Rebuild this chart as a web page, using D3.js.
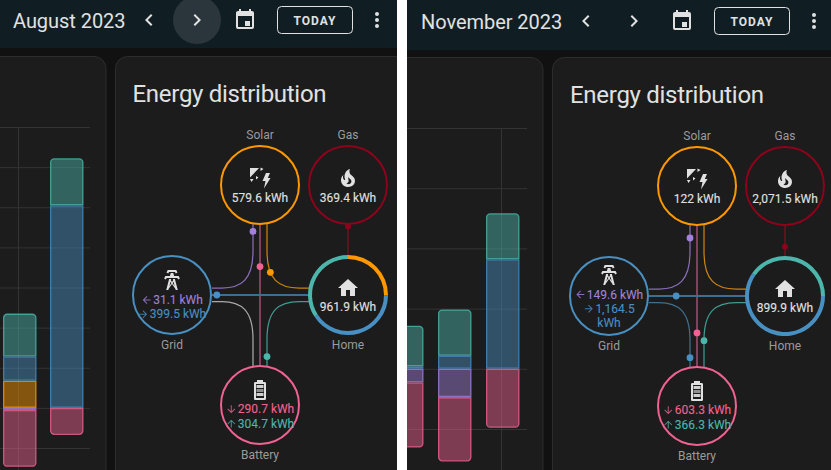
<!DOCTYPE html>
<html>
<head>
<meta charset="utf-8">
<style>
  html, body { margin: 0; padding: 0; background: #fff; }
  svg { display: block; font-family: Roboto, sans-serif; }
</style>
<script src="https://cdn.jsdelivr.net/npm/d3@7"></script>
</head>
<body>
<svg id="chart" width="831" height="470"></svg>
<script>
// Series colours
const COLORS = {
  solar: '#ff9800',
  gas: '#8e021b',
  gridIn: '#488fc2',
  gridOut: '#a280db',
  batteryIn: '#f06292',
  batteryOut: '#4db6ac',
};
const ICON = '#e1e1e1';
const LABEL = '#9b9b9b';

// August bars (kWh)
const augBars = ['a', 'b'];
const augSolar = [1.35, 0];
const augGridIn = [1.21, 10.1];
const augBatteryOut = [2.14, 2.34];
const augGridOut = [-0.1, 0];
const augBatteryIn = [-2.84, -1.35];

// November bars (kWh)
const novBars = ['a', 'b', 'c'];
const novSolar = [0, 0, 0];
const novGridIn = [0.2, 1.08, 9.1];
const novBatteryOut = [3.38, 3.85, 3.82];
const novGridOut = [-1.14, -2.35, 0];
const novBatteryIn = [-5.4, -5.35, -4.9];

// Home ring shares
const augHomeShares = [241, 393, 327.9];
const novHomeShares = [0, 536.4, 363.5];

// Where the moving dot sits on each flow, as fraction of the path (null = none)
const augDots = [0.08, 0.3, 0.52, 0.05, null, 0.1, 0.08];
const novDots = [0.14, 0.76, null, 0.28, 0.9, 0.28, 0.7];

const ICONS = {
  home: 'M10,20V14H14V20H19V12H22L12,3L2,12H5V20H10Z',
  fire: 'M17.66 11.2C17.43 10.9 17.15 10.64 16.89 10.38C16.22 9.78 15.46 9.35 14.82 8.72C13.33 7.26 13 4.85 13.95 3C13 3.23 12.17 3.75 11.46 4.32C8.87 6.4 7.85 10.07 9.07 13.22C9.11 13.32 9.15 13.42 9.15 13.55C9.15 13.77 9 13.97 8.8 14.05C8.57 14.15 8.33 14.09 8.14 13.93C8.08 13.88 8.04 13.83 8 13.76C6.87 12.33 6.69 10.28 7.45 8.64C5.78 10 4.87 12.3 5 14.47C5.06 14.97 5.12 15.47 5.29 15.97C5.43 16.57 5.7 17.17 6 17.7C7.08 19.43 8.95 20.67 10.96 20.92C13.1 21.19 15.39 20.8 17.03 19.32C18.86 17.66 19.5 15 18.56 12.72L18.43 12.46C18.22 12 17.66 11.2 17.66 11.2M14.5 17.5C14.22 17.74 13.76 18 13.4 18.1C12.28 18.5 11.16 17.94 10.5 17.28C11.69 17 12.4 16.12 12.61 15.23C12.78 14.43 12.46 13.77 12.33 13C12.21 12.26 12.23 11.63 12.5 10.94C12.69 11.32 12.89 11.7 13.13 12C13.9 13 15.11 13.44 15.37 14.8C15.41 14.94 15.43 15.08 15.43 15.23C15.46 16.05 15.1 16.95 14.5 17.5H14.5Z',
  tower: 'M8.28,5.45L6.5,4.55L7.76,2H16.23L17.5,4.55L15.72,5.44L15,4H9L8.28,5.45M18.62,8H14.09L13.3,5H10.7L9.91,8H5.38L4.1,10.55L5.89,11.44L6.62,10H17.38L18.1,11.45L19.89,10.56L18.62,8M17.77,22H15.7L15.46,21.1L12,15.9L8.53,21.1L8.3,22H6.23L9.12,11H11.19L10.83,12.35L12,14.1L13.16,12.35L12.81,11H14.88L17.77,22M11.4,15L10.5,13.65L9.32,18.13L11.4,15M14.68,18.12L13.5,13.64L12.6,15L14.68,18.12Z',
  solar: 'M2,2H11L2,11.5ZM12.5,1.5L15.5,3L12.5,5ZM2,13H5.5L3.5,16ZM8,10L10.5,11.5L8,13.5ZM18,7H22L19.8,12H22.5L16,22.5L17.5,15H14.5Z',
  battery: 'M16,20H8V6H16M16.67,4H15V2H9V4H7.33A1.33,1.33 0 0,0 6,5.33V20.67C6,21.4 6.6,22 7.33,22H16.67A1.33,1.33 0 0,0 18,20.67V5.33C18,4.6 17.4,4 16.67,4Z',
  chevronLeft: 'M15.41,16.58L10.83,12L15.41,7.41L14,6L8,12L14,18L15.41,16.58Z',
  chevronRight: 'M8.59,16.58L13.17,12L8.59,7.41L10,6L16,12L10,18L8.59,16.58Z',
  calendar: 'M19,19H5V8H19M19,3H18V1H16V3H8V1H6V3H5C3.89,3 3,3.9 3,5V19A2,2 0 0,0 5,21H19A2,2 0 0,0 21,19V5A2,2 0 0,0 19,3M12,13H17V18H12V13Z',
  dots: 'M12,16A2,2 0 0,1 14,18A2,2 0 0,1 12,20A2,2 0 0,1 10,18A2,2 0 0,1 12,16M12,10A2,2 0 0,1 14,12A2,2 0 0,1 12,14A2,2 0 0,1 10,12A2,2 0 0,1 12,10M12,4A2,2 0 0,1 14,6A2,2 0 0,1 12,8A2,2 0 0,1 10,6A2,2 0 0,1 12,4Z',
  left: 'M20,11V13H8L13.5,18.5L12.08,19.92L4.16,12L12.08,4.08L13.5,5.5L8,11H20Z',
  right: 'M4,11V13H16L10.5,18.5L11.92,19.92L19.84,12L11.92,4.08L10.5,5.5L16,11H4Z',
  down: 'M11,4H13V16L18.5,10.5L19.92,11.92L12,19.84L4.08,11.92L5.5,10.5L11,16V4Z',
  up: 'M13,20H11V8L5.5,13.5L4.08,12.08L12,4.16L19.92,12.08L18.5,13.5L13,8V20Z',
};

const svg = d3.select('#chart');
const defs = svg.append('defs');

function icon(g, name, cx, cy, size, color) {
  const s = size / 24;
  return g.append('path')
    .attr('d', ICONS[name])
    .attr('transform', `translate(${cx - size / 2},${cy - size / 2}) scale(${s})`)
    .attr('fill', color || ICON)
    .attr('fill-rule', 'evenodd');
}

// Rectangle with only top and/or bottom corners rounded
function barPath(x, y0, y1, w, rt, rb) {
  const p = d3.path();
  p.moveTo(x, y0 + rt);
  if (rt) p.arcTo(x, y0, x + rt, y0, rt);
  p.lineTo(x + w - rt, y0);
  if (rt) p.arcTo(x + w, y0, x + w, y0 + rt, rt);
  p.lineTo(x + w, y1 - rb);
  if (rb) p.arcTo(x + w, y1, x + w - rb, y1, rb);
  p.lineTo(x + rb, y1);
  if (rb) p.arcTo(x, y1, x, y1 - rb, rb);
  p.closePath();
  return p.toString();
}

function drawBars(g, cfg) {
  const y = d3.scaleLinear().domain(cfg.yDomain).range(cfg.yRange);
  const x = d3.scaleLinear().domain([0, cfg.bars.length - 1]).range(cfg.xRange);
  const barW = 33.5;

  // grid
  const axis = d3.axisLeft(y).tickValues(d3.range(cfg.yDomain[0], cfg.yDomain[1] + 1, cfg.yStep))
    .tickSize(-(cfg.gridX[1] - cfg.gridX[0])).tickFormat('');
  const ag = g.append('g').attr('transform', `translate(${cfg.gridX[0]},0)`).call(axis);
  ag.select('.domain').remove();
  ag.selectAll('line').attr('stroke', '#333');
  const vx = Math.floor(x(cfg.vGrid) + barW / 2) - 0.5;
  g.append('line').attr('x1', vx).attr('x2', vx).attr('y1', cfg.yRange[1]).attr('y2', 471).attr('stroke', '#333');

  // stacked bars
  const keys = ['solar', 'gridIn', 'batteryOut', 'gridOut', 'batteryIn'];
  const table = cfg.bars.map((b, i) => ({
    solar: cfg.solar[i], gridIn: cfg.gridIn[i], batteryOut: cfg.batteryOut[i],
    gridOut: cfg.gridOut[i], batteryIn: cfg.batteryIn[i],
  }));
  const series = d3.stack().keys(keys).offset(d3.stackOffsetDiverging)(table);
  const tops = table.map((row, i) => d3.max(series, s => s[i][1]));
  const bottoms = table.map((row, i) => d3.min(series, s => s[i][0]));

  series.forEach(s => {
    s.forEach((d, i) => {
      if (d[1] - d[0] === 0) return;
      const y0 = y(d[1]);
      const y1 = y(d[0]);
      g.append('path')
        .attr('d', barPath(x(i) + 0.65, y0 + 0.65, y1 - 0.65, barW - 1.3,
          d[1] === tops[i] ? 3.5 : 0, d[0] === bottoms[i] ? 3.5 : 0))
        .attr('fill', COLORS[s.key]).attr('fill-opacity', 0.46)
        .attr('stroke', COLORS[s.key]).attr('stroke-width', 1.3).attr('stroke-opacity', 0.8);
    });
  });
}

function drawHeader(g, cfg) {
  g.append('rect').attr('x', cfg.x0).attr('y', 0).attr('width', cfg.x1 - cfg.x0).attr('height', cfg.headerH).attr('fill', '#101e24');
  const cy = cfg.headerH / 2 - 4;
  g.append('text').attr('x', cfg.titleX).attr('y', cy + 8).attr('fill', ICON)
    .attr('font-size', 20).attr('letter-spacing', -0.05).text(cfg.month);
  if (cfg.hover) g.append('circle').attr('cx', cfg.nextX).attr('cy', cy).attr('r', 24).attr('fill', '#2a363b');
  icon(g, 'chevronLeft', cfg.prevX, cy, 24);
  icon(g, 'chevronRight', cfg.nextX, cy, 24);
  icon(g, 'calendar', cfg.calX, cy, 24);
  g.append('rect').attr('x', cfg.todayX + 0.5).attr('y', cy - 13.5).attr('width', 75).attr('height', 27).attr('rx', 4)
    .attr('fill', 'none').attr('stroke', ICON).attr('stroke-width', 1);
  g.append('text').attr('x', cfg.todayX + 38).attr('y', cy + 4.5).attr('text-anchor', 'middle').attr('fill', ICON)
    .attr('font-size', 12).attr('font-weight', 700).attr('letter-spacing', 1.05).text('TODAY');
  icon(g, 'dots', cfg.dotsX, cy, 24);
}

// Value line inside a circle, with optional arrow in front
function valueLine(g, cx, y, text, color, arrow, arrowColor) {
  const off = arrow ? 6 : 0;
  const t = g.append('text').attr('x', cx + off).attr('y', y).attr('text-anchor', 'middle')
    .attr('font-size', 12).attr('fill', color)
    .attr('stroke', color).attr('stroke-width', 0.1).text(text);
  if (arrow) {
    const len = t.node().getComputedTextLength();
    icon(g, arrow, cx + off - len / 2 - 6.5, y - 4, 12, arrowColor).attr('opacity', 0.8);
  }
}

function drawFlows(g, cfg) {
  const { solar, grid, home, battery, gas } = cfg.nodes;
  const top = solar.y + 39, bot = battery.y - 39, lx = grid.x + 40, rx = home.x - 39;
  const cl = solar.x - 7, cr = solar.x + 7, yu = grid.y - 7, yd = grid.y + 6.5;

  // straight stub, elbow, straight stub
  function elbow(x0, y0, sx, sy, c1x, c1y, c2x, c2y, hx, hy, x1, y1) {
    const p = d3.path();
    p.moveTo(x0, y0);
    p.lineTo(sx, sy);
    p.bezierCurveTo(c1x, c1y, c2x, c2y, hx, hy);
    p.lineTo(x1, y1);
    return p.toString();
  }
  const flows = [
    { d: elbow(cl, top, cl, grid.y - 44, cl, grid.y - 15, cl - 12, yu, lx + 10, yu, lx, yu), c: '#8a6cb8', w: 1.25, dot: COLORS.gridOut },
    { d: `M${solar.x},${top}V${bot}`, c: '#a14e72', w: 1.5, dot: COLORS.batteryIn },
    { d: elbow(cr, top, cr, grid.y - 44, cr, grid.y - 15, cr + 12, yu, rx - 10, yu, rx, yu), c: '#c9820f', w: 1.25, dot: COLORS.solar },
    { d: `M${lx},${grid.y}H${rx}`, c: '#3f6f90', w: 2, dot: COLORS.gridIn },
    { d: elbow(lx, yd, lx + 10, yd, cl - 12, yd, cl, grid.y + 15, cl, grid.y + 44, cl, bot), c: cfg.gridBatteryColor, w: 1.25, dot: COLORS.gridIn },
    { d: elbow(cr, bot, cr, grid.y + 44, cr, grid.y + 15, cr + 12, yd, rx - 10, yd, rx, yd), c: '#3f9a90', w: 1.25, dot: COLORS.batteryOut },
    { d: `M${gas.x},${gas.y + 39}V${home.y - 40}`, c: '#72101f', w: 1.5, dot: COLORS.gas },
  ];

  flows.forEach((f, i) => {
    const path = g.append('path').attr('d', f.d).attr('fill', 'none').attr('stroke', f.c).attr('stroke-width', f.w);
    if (cfg.dots[i] == null) return;
    const node = path.node();
    const pt = node.getPointAtLength(node.getTotalLength() * cfg.dots[i]);
    g.append('circle').attr('cx', pt.x).attr('cy', pt.y).attr('r', i === 6 ? 3 : 3.4).attr('fill', f.dot);
  });
}

function drawDistribution(g, cfg) {
  drawFlows(g, cfg);
  const n = cfg.nodes;

  // plain circles
  [[n.solar, COLORS.solar], [n.gas, COLORS.gas], [n.grid, COLORS.gridIn], [n.battery, COLORS.batteryIn]].forEach(([c, col]) => {
    g.append('circle').attr('cx', c.x).attr('cy', c.y).attr('r', 39)
      .attr('fill', 'none').attr('stroke', col).attr('stroke-width', 2);
  });

  // home ring built from its shares
  const pie = d3.pie().sort(null).startAngle(cfg.ringStart).endAngle(cfg.ringStart + Math.PI * 2);
  const arc = d3.arc().innerRadius(36).outerRadius(40);
  const ringColors = [COLORS.solar, COLORS.gridIn, COLORS.batteryOut];
  g.append('g').attr('transform', `translate(${n.home.x},${n.home.y})`)
    .selectAll('path').data(pie(cfg.homeShares)).join('path')
    .attr('d', arc).attr('fill', (d, i) => ringColors[i]);

  // labels
  const labels = [[n.solar, 'Solar', -46.5], [n.gas, 'Gas', -46.5], [n.grid, 'Grid', 53.5], [n.home, 'Home', 53.5], [n.battery, 'Battery', 53.5]];
  labels.forEach(([c, t, dy]) => {
    g.append('text').attr('x', c.x).attr('y', c.y + dy).attr('text-anchor', 'middle')
      .attr('font-size', 12).attr('fill', LABEL).text(t);
  });

  // icons + values
  icon(g, 'solar', n.solar.x, n.solar.y - 7, 24);
  icon(g, 'fire', n.gas.x, n.gas.y - 7, 24);
  icon(g, 'home', n.home.x, n.home.y - 7, 24);
  icon(g, 'battery', n.battery.x, n.battery.y - 15, 24);
  [['#cfcfcf', -20], ['#8f8f8f', -16], ['#cfcfcf', -12]].forEach(([fill, dy]) => {
    g.append('rect').attr('x', n.battery.x - 3.5).attr('y', n.battery.y + dy).attr('width', 7).attr('height', 3).attr('fill', fill);
  });

  valueLine(g, n.solar.x, n.solar.y + 17, cfg.solarText, ICON);
  valueLine(g, n.gas.x, n.gas.y + 17, cfg.gasText, ICON);
  valueLine(g, n.home.x, n.home.y + 16, cfg.homeText, ICON);

  icon(g, 'tower', n.grid.x, n.grid.y - cfg.towerUp, 24);
  const gy = n.grid.y + cfg.gridLine0;
  valueLine(g, n.grid.x, gy, cfg.gridOutText, COLORS.gridOut, 'left', COLORS.gridOut);
  valueLine(g, n.grid.x, gy + 14.3, cfg.gridInText, COLORS.gridIn, 'right', COLORS.gridIn);
  if (cfg.gridInWrap) valueLine(g, n.grid.x, gy + 28.3, cfg.gridInWrap, COLORS.gridIn);

  valueLine(g, n.battery.x, n.battery.y + 8.3, cfg.batteryInText, COLORS.batteryIn, 'down', COLORS.batteryIn);
  valueLine(g, n.battery.x, n.battery.y + 22.6, cfg.batteryOutText, COLORS.batteryOut, 'up', COLORS.batteryOut);
}

function drawPanel(cfg) {
  const id = 'clip-' + cfg.month.split(' ')[0];
  defs.append('clipPath').attr('id', id).append('rect')
    .attr('x', cfg.x0).attr('y', 0).attr('width', cfg.x1 - cfg.x0).attr('height', 470);
  const g = svg.append('g').attr('clip-path', `url(#${id})`);

  g.append('rect').attr('x', cfg.x0).attr('y', 0).attr('width', cfg.x1 - cfg.x0).attr('height', 470).attr('fill', '#111');

  // cards
  cfg.cards.forEach(c => {
    g.append('rect').attr('x', c[0] + 0.5).attr('y', cfg.cardY + 0.5).attr('width', c[1] - c[0] - 1).attr('height', 500).attr('rx', 12)
      .attr('fill', '#1c1c1c').attr('stroke', '#2d2d2d');
  });
  drawHeader(g, cfg);
  drawBars(g, cfg);
  g.append('text').attr('x', cfg.cardTitleX).attr('y', cfg.cardTitleY).attr('font-size', 24)
    .attr('letter-spacing', -0.288).attr('fill', ICON).text('Energy distribution');
  drawDistribution(g, cfg);
}

// white gap between the two screenshots
svg.append('rect').attr('width', 831).attr('height', 470).attr('fill', '#fff');

drawPanel({
  month: 'August 2023', x0: 0, x1: 397, headerH: 48, cardY: 56, hover: true,
  titleX: 13, prevX: 149, nextX: 197, calX: 245, todayX: 277, dotsX: 377,
  cards: [[-60, 106.5], [115, 460]], cardTitleX: 132.5, cardTitleY: 102,
  bars: augBars, solar: augSolar, gridIn: augGridIn, batteryOut: augBatteryOut, gridOut: augGridOut, batteryIn: augBatteryIn,
  yDomain: [-2, 14], yStep: 2, yRange: [448, 127], xRange: [3, 50], gridX: [0, 90], vGrid: 0,
  nodes: { solar: { x: 260, y: 185 }, gas: { x: 348, y: 185 }, grid: { x: 172, y: 295 }, home: { x: 348, y: 295 }, battery: { x: 260, y: 405 } },
  dots: augDots, homeShares: augHomeShares, ringStart: 0, gridBatteryColor: '#a8a8a8',
  solarText: '579.6 kWh', gasText: '369.4 kWh', homeText: '961.9 kWh',
  gridOutText: '31.1 kWh', gridInText: '399.5 kWh', towerUp: 15, gridLine0: 9,
  batteryInText: '290.7 kWh', batteryOutText: '304.7 kWh',
});

drawPanel({
  month: 'November 2023', x0: 407, x1: 831, headerH: 50, cardY: 57, hover: false,
  titleX: 421, prevX: 586, nextX: 634, calX: 682, todayX: 714, dotsX: 814,
  cards: [[340, 543.5], [552, 900]], cardTitleX: 570, cardTitleY: 103,
  bars: novBars, solar: novSolar, gridIn: novGridIn, batteryOut: novBatteryOut, gridOut: novGridOut, batteryIn: novBatteryIn,
  yDomain: [-5, 20], yStep: 5, yRange: [429, 128], xRange: [390, 486], gridX: [407, 527], vGrid: 2,
  nodes: { solar: { x: 697, y: 186 }, gas: { x: 785, y: 186 }, grid: { x: 609, y: 296 }, home: { x: 785, y: 296 }, battery: { x: 697, y: 406 } },
  dots: novDots, homeShares: novHomeShares, ringStart: Math.PI / 2, gridBatteryColor: '#3f6f90',
  solarText: '122 kWh', gasText: '2,071.5 kWh', homeText: '899.9 kWh',
  gridOutText: '149.6 kWh', gridInText: '1,164.5', gridInWrap: 'kWh', towerUp: 21, gridLine0: 2.5,
  batteryInText: '603.3 kWh', batteryOutText: '366.3 kWh',
});
</script>
</body>
</html>
